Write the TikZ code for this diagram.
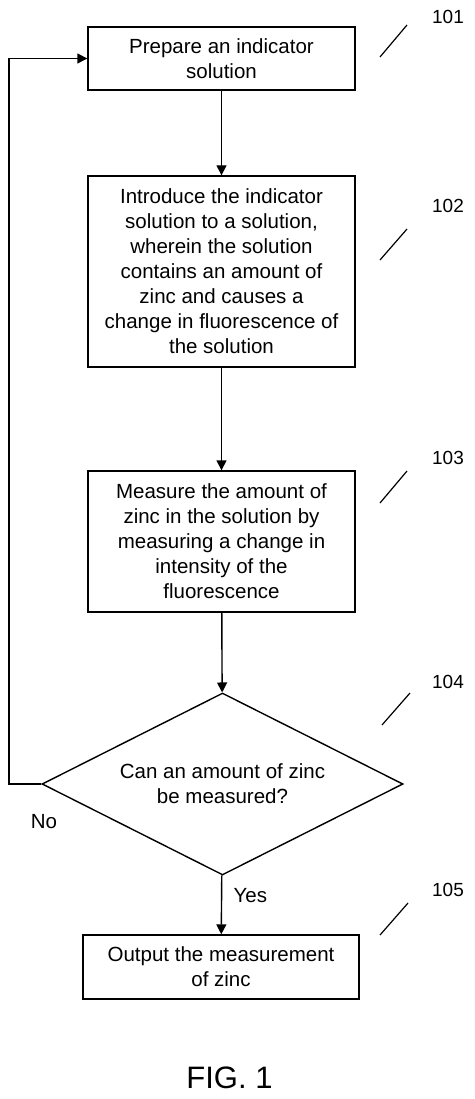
\documentclass[tikz,border=0pt]{standalone}
\usepackage{fontspec}
\setmainfont{Liberation Sans}
\usetikzlibrary{shapes.geometric,arrows.meta}

\tikzset{
    box/.style={draw, line width=1.4pt, align=center, inner sep=0pt,
        minimum width=267pt, font=\fontsize{20.5}{25}\selectfont},
    decision/.style={draw, diamond, shape aspect=2, line width=1.4pt, align=center, inner sep=0pt,
        minimum width=361pt, minimum height=182pt, font=\fontsize{20.5}{25}\selectfont},
    arr/.style={line width=1.4pt, -{Triangle[length=10pt,width=10pt]}},
    reflabel/.style={font=\fontsize{19}{22}\selectfont},
    refline/.style={line width=1.2pt}
}

\begin{document}
\begin{tikzpicture}[x=1pt,y=-1pt]
    \useasboundingbox (0,0) rectangle (474,1099);

    % steps
    \node [box, minimum height=63pt] (prep) at (221.5,58.5) {Prepare an indicator\\solution};
    \node [box, minimum height=191pt] (intro) at (221.5,271.5) {Introduce the indicator\\solution to a solution,\\wherein the solution\\contains an amount of\\zinc and causes a\\change in fluorescence of\\the solution};
    \node [box, minimum height=141pt] (meas) at (221.5,541.5) {Measure the amount of\\zinc in the solution by\\measuring a change in\\intensity of the\\fluorescence};
    \node [decision] (check) at (222.5,784) {Can an amount of zinc\\be measured?};
    \node [box, minimum width=276pt, minimum height=64pt] (out) at (221,967) {Output the measurement\\of zinc};

    % connectors
    \draw [arr] (prep) -- (intro);
    \draw [arr] (intro) -- (meas);
    \draw [arr] (meas) -- (check);
    \draw [arr] (check) -- (out) node [pos=0.35, right=8pt, font=\fontsize{20.5}{25}\selectfont] (yes) {Yes};
    \draw [arr] (check.west) -- (9,784) |- (prep.west);
    \node [font=\fontsize{20.5}{25}\selectfont] (no) at (44,822) {No};

    % reference numerals
    \node [reflabel] (r101) at (448,17) {101};
    \draw [refline] (380,57) -- (407,25);
    \node [reflabel] (r102) at (448,206) {102};
    \draw [refline] (380,260) -- (407,229);
    \node [reflabel] (r103) at (448,458) {103};
    \draw [refline] (380,503) -- (407,471);
    \node [reflabel] (r104) at (448,682) {104};
    \draw [refline] (382,725) -- (410,693);
    \node [reflabel] (r105) at (448,890) {105};
    \draw [refline] (380,935) -- (408,903);

    \node [font=\fontsize{31}{36}\selectfont] (fig) at (229.5,1078) {FIG. 1};
\end{tikzpicture}
\end{document}
